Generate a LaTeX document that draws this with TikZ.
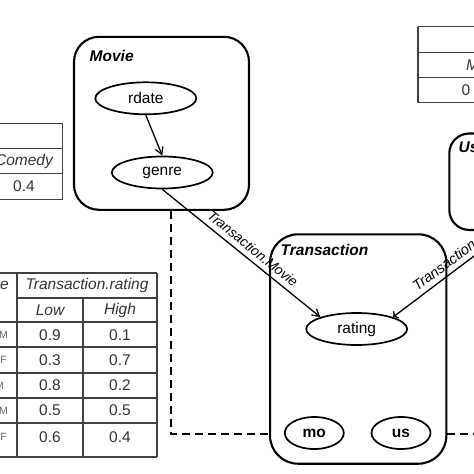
\documentclass[tikz,border=0pt]{standalone}
\usepackage{fontspec}
\setmainfont{Liberation Sans}
\usetikzlibrary{arrows.meta,shapes.geometric}
\begin{document}
\begin{tikzpicture}[x=1pt,y=1pt,
  every node/.style={font=\fontsize{15.5}{18}\selectfont, inner sep=0pt},
  box/.style={draw, line width=2.1pt, inner sep=0pt},
  boxtitle/.style={anchor=west, font=\fontsize{15.5}{18}\selectfont\bfseries\itshape},
  var/.style={draw, ellipse, line width=1.7pt, minimum width=101pt, minimum height=32pt},
  keyvar/.style={var, minimum width=59pt, minimum height=32pt, font=\fontsize{15.5}{18}\selectfont\bfseries},
  link/.style={line width=1.3pt, -{Straight Barb[length=7pt,width=8pt]}},
  linklabel/.style={font=\fontsize{13.8}{16}\selectfont\itshape, sloped, inner sep=5pt},
  refdash/.style={line width=2pt, dash pattern=on 8pt off 5pt},
  tline/.style={line width=1.2pt, draw=black!75},
  tcell/.style={text=black!80},
  thead/.style={text=black!80, font=\fontsize{15.5}{18}\selectfont\itshape},
  tside/.style={text=black!60, anchor=east, font=\fontsize{10.5}{12}\selectfont}
]
\useasboundingbox (0,0) rectangle (474,-474);
\clip (0,0) rectangle (474,-474);

% ---------- boxes ----------
\node[box, rounded corners=25pt, minimum width=175pt, minimum height=173pt] (movie) at (161.5,-123.3) {};
\node[box, rounded corners=28pt, minimum width=176.3pt, minimum height=229.4pt] (trans) at (358.2,-349) {};
\node[box, rounded corners=20pt, minimum width=100pt, minimum height=96.5pt] (user) at (499.3,-181.7) {};

\node[boxtitle] (movielbl) at (89.5,-56) {Movie};
\node[boxtitle] (translbl) at (280.5,-250) {Transaction};
\node[boxtitle] (userlbl) at (458.5,-147) {User};

% ---------- variables ----------
\node[var] (rdate) at (145.8,-98.3) {rdate};
\node[var] (genre) at (162.3,-172.5) {genre};
\node[var] (rating) at (356.7,-329) {rating};
\node[keyvar] (mo) at (314.3,-433) {mo};
\node[keyvar] (us) at (401,-433) {us};

% ---------- connectors ----------
\draw[link] (rdate.south) -- (genre.north);
\draw[link] (genre.south) -- node[linklabel, above, pos=0.53] (tmlbl) {Transaction.Movie} (rating.north west);
\coordinate (uend) at (490,-244);
\draw[link, <-] (rating.north east) -- node[linklabel, anchor=south west, pos=0.24, font=\fontsize{14.5}{16}\selectfont\itshape] (tulbl) {Transaction.User} (uend);

% ---------- reference (dashed) lines ----------
\coordinate (dm) at (171,-434);
\draw[refdash] (movie.south -| dm) -- (dm) -- (dm -| trans.west);
\coordinate (du) at (490,-434);
\draw[refdash] (du -| trans.east) -- (du);

% ---------- top-left table ----------
\foreach \yy in {123.3,148.3,173.3,199.3} \draw[tline] (-5,-\yy) -- (62.7,-\yy);
\draw[tline] (62.7,-123.3) -- (62.7,-199.3);
\node[thead] (tlc) at (24,-161.5) {Comedy};
\node[tcell] (tlv) at (24,-186.5) {0.4};

% ---------- top-right table ----------
\foreach \yy in {26.7,52.3,77.7,102.7} \draw[tline] (418,-\yy) -- (480,-\yy);
\draw[tline] (418,-26.7) -- (418,-102.7);
\node[thead, anchor=west] (trm) at (466,-65) {M};
\node[tcell, anchor=west] (trv) at (461.5,-90) {0};

% ---------- bottom-left table ----------
\draw[tline] (-5,-273) -- (157,-273);
\draw[tline] (17,-298) -- (157,-298);
\foreach \yy in {322,347,373,398,423,457} \draw[tline] (-5,-\yy) -- (157,-\yy);
\draw[tline] (17,-273) -- (17,-457);
\draw[tline] (83,-298) -- (83,-457);
\draw[tline] (157,-273) -- (157,-457);
\node[thead, anchor=east] (bse) at (9,-285.5) {se};
\node[thead] (brt) at (87,-285.5) {Transaction.rating};
\node[thead] (blow) at (50,-310) {Low};
\node[thead] (bhigh) at (120,-310) {High};
\node[tside] (s1) at (8,-335) {M};
\node[tside] (s2) at (7,-360) {F};
\node[tside] (s3) at (4,-385.5) {M};
\node[tside] (s4) at (8,-410.5) {M};
\node[tside] (s5) at (7,-437) {F};
\node[tcell] (a1) at (50,-335) {0.9};
\node[tcell] (b1) at (120,-335) {0.1};
\node[tcell] (a2) at (50,-360) {0.3};
\node[tcell] (b2) at (120,-360) {0.7};
\node[tcell] (a3) at (50,-385.5) {0.8};
\node[tcell] (b3) at (120,-385.5) {0.2};
\node[tcell] (a4) at (50,-410.5) {0.5};
\node[tcell] (b4) at (120,-410.5) {0.5};
\node[tcell] (a5) at (50,-437) {0.6};
\node[tcell] (b5) at (120,-437) {0.4};
\end{tikzpicture}
\end{document}
